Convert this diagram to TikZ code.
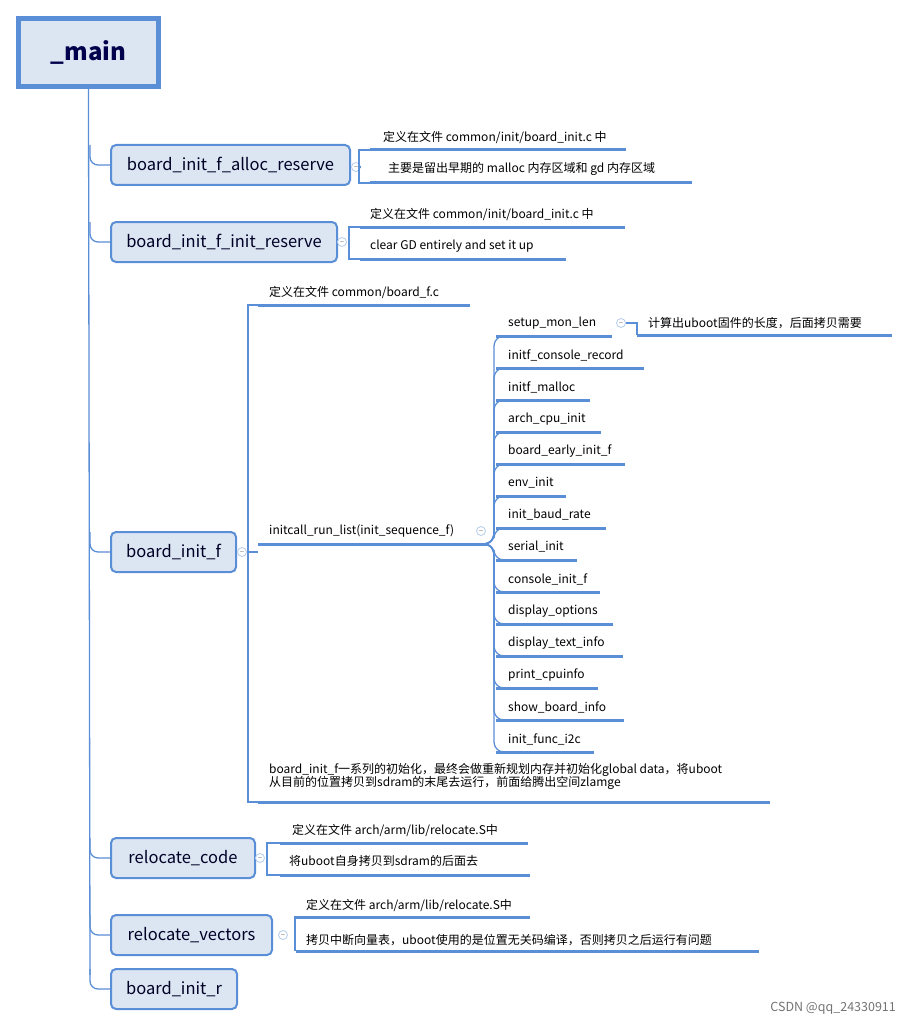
\documentclass[tikz,border=0pt]{standalone}
\usepackage{fontspec}
\setmainfont{Noto Sans CJK SC}
\begin{document}
\begin{tikzpicture}[x=1pt,y=-1pt,
  blu/.style={draw=mb,line width=1.3pt},
  ul/.style={draw=mb,line width=3pt},
  lf/.style={anchor=west,inner sep=0pt,font=\fontsize{12}{14}\selectfont,text=black},
  br/.style={draw=mb,fill=mf,line width=2pt,rounded corners=5pt,inner sep=0pt,font=\fontsize{16.5}{19}\selectfont,text=black!85!blue},
  cc/.style={circle,draw=mb!45,fill=white,minimum size=9pt,inner sep=0pt,line width=0.8pt}]
\definecolor{mb}{HTML}{5A8ED6}
\definecolor{mf}{HTML}{DCE6F2}
\useasboundingbox (0,0) rectangle (910,1027);
% root
\node[draw=mb,fill=mf,line width=5pt,minimum width=140pt,minimum height=68pt,font=\fontsize{24}{28}\selectfont\bfseries,text=black!70!blue] (root) at (88.5,52.5) {\_main};
\draw[blu] (root.south) -- (90,975);
% branches
\foreach \n/\x/\y/\w/\t in {a/110/165/239/board\_init\_f\_alloc\_reserve, b/110/242/226/board\_init\_f\_init\_reserve, c/110/552/125/board\_init\_f, d/110/858/144/relocate\_code, e/110/935/161/relocate\_vectors, f/110/989/126/board\_init\_r}{
  \node[br,anchor=west,minimum width=\w pt,minimum height=40pt] (\n) at (\x,\y) {\t};
  \draw[blu,rounded corners=8pt] (90,\y-20) |- (\n.west);
}
% alloc_reserve
\node[cc] (ca) at (356,167) {\tiny$-$};
\draw[blu] (ca) -- (359,167);
\draw[blu] (370,150) -| (359,183) -- (370,183);
\draw[ul] (370,150) -- (626,150); \node[lf] (a1) at (383,137) {定义在文件 common/init/board\_init.c 中};
\draw[ul] (370,183) -- (692,183); \node[lf] (a2) at (388,169) {主要是留出早期的 malloc 内存区域和 gd 内存区域};
% init_reserve
\node[cc] (cb) at (342,242) {\tiny$-$};
\draw[blu] (360,227) -| (349,259) -- (360,259);
\draw[ul] (360,227) -- (625,227); \node[lf] (b1) at (370,214) {定义在文件 common/init/board\_init.c 中};
\draw[ul] (360,259) -- (566,259); \node[lf] (b2) at (370,246) {clear GD entirely and set it up};
% board_init_f
\node[cc] (cc1) at (242,552) {\tiny$-$};
\draw[blu] (258,305) -| (248,802) -- (258,802);
\draw[blu] (cc1) -- (258,552);
\draw[ul] (258,305) -- (470,305); \node[lf] (c1) at (269,292) {定义在文件 common/board\_f.c};
\draw[ul] (258,544) -- (487,544); \node[lf] (c2) at (269,531) {initcall\_run\_list(init\_sequence\_f)};
\draw[ul] (258,802) -- (770,802);
\node[lf,align=left,anchor=north west] (c3) at (269,763) {board\_init\_f一系列的初始化，最终会做重新规划内存并初始化global data，将uboot\\[-1pt]从目前的位置拷贝到sdram的末尾去运行，前面给腾出空间zlamge};
\node[cc] (cc2) at (481,531) {\tiny$-$};
\foreach \yy/\ex/\t in {323/612/setup\_mon\_len,355/644/initf\_console\_record,387/590/initf\_malloc,419/601/arch\_cpu\_init,451/625/board\_early\_init\_f,483/566/env\_init,515/606/init\_baud\_rate,547/577/serial\_init,579/600/console\_init\_f,611/613/display\_options,643/623/display\_text\_info,675/598/print\_cpuinfo,707/624/show\_board\_info,739/594/init\_func\_i2c}{
  \draw[blu,rounded corners=10pt] (487,544) -| (494,\yy+13) -- (500,\yy+13);
  \draw[ul] (496,\yy+13) -- (\ex,\yy+13);
  \node[lf] at (508,\yy) {\t};
}
\node[cc] (cs) at (621,323) {\tiny$-$};
\draw[blu] (cs) -- (637,323) -- (637,335);
\draw[ul] (637,335) -- (892,335); \node[lf] (s1) at (648,323) {计算出uboot固件的长度，后面拷贝需要};
% relocate_code
\node[cc] (cd) at (260,858) {\tiny$-$};
\draw[blu] (280,843) -| (267,875) -- (280,875);
\draw[ul] (280,843) -- (528,843); \node[lf] (d1) at (292,830) {定义在文件 arch/arm/lib/relocate.S中};
\draw[ul] (280,875) -- (530,875); \node[lf] (d2) at (289,861) {将uboot自身拷贝到sdram的后面去};
% relocate_vectors
\node[cc] (ce) at (283,935) {\tiny$-$};
\draw[blu] (296,917) -| (295,951);
\draw[ul] (296,917) -- (530,917); \node[lf] (e1) at (306,905) {定义在文件 arch/arm/lib/relocate.S中};
\draw[ul] (296,951) -- (759,951); \node[lf] (e2) at (306,940) {拷贝中断向量表，uboot使用的是位置无关码编译，否则拷贝之后运行有问题};
\node[anchor=east,inner sep=0pt,font=\fontsize{12.5}{14}\selectfont,text=black!55] (wm) at (896,1008) {CSDN @qq\_24330911};
\end{tikzpicture}
\end{document}
